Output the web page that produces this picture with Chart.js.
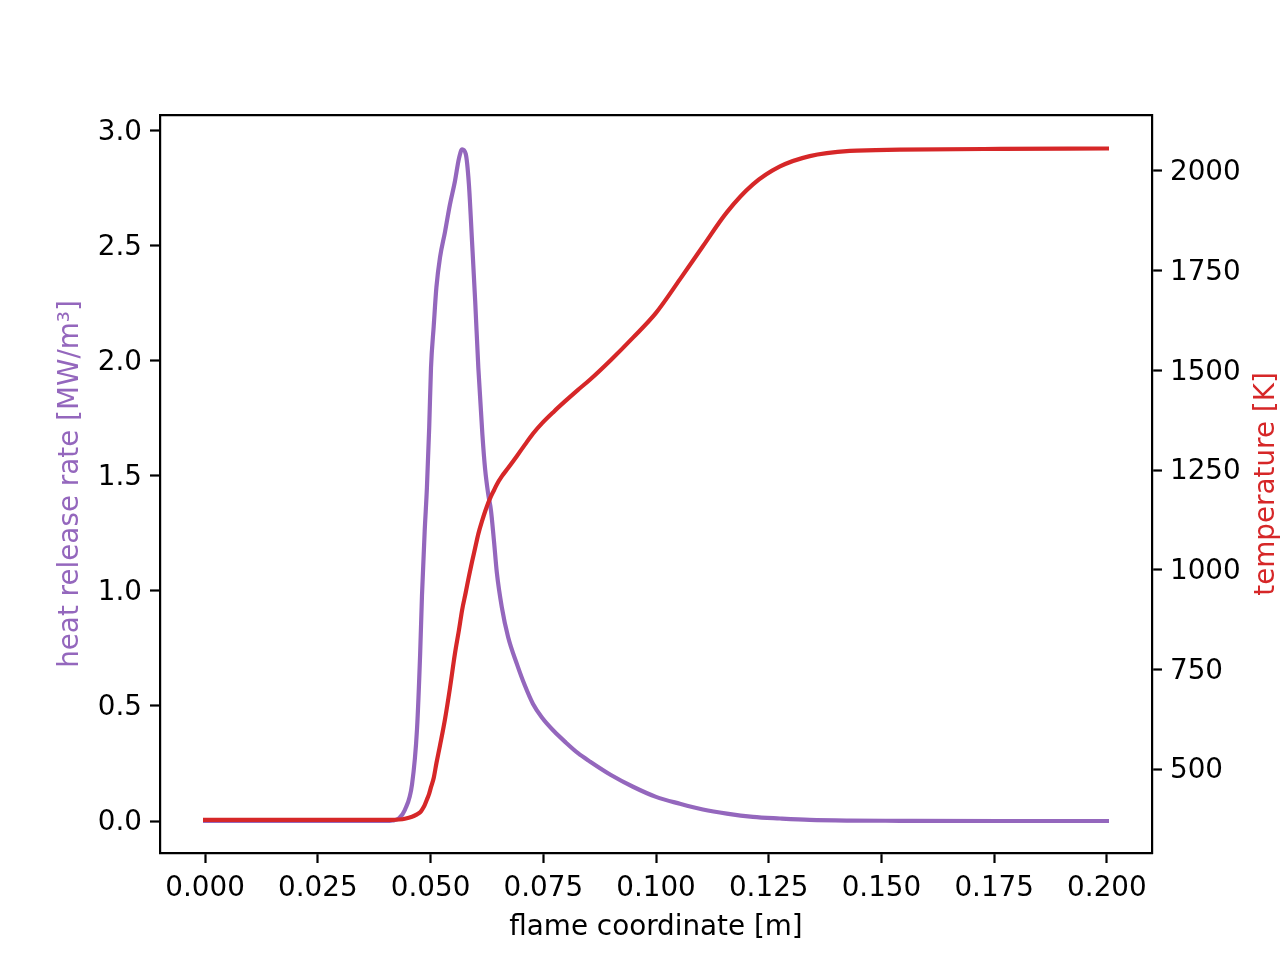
<!DOCTYPE html>
<html>
<head>
<meta charset="utf-8">
<style>
html,body{margin:0;padding:0;background:#ffffff;}
#wrap{width:1280px;height:960px;}
</style>
<script src="https://cdn.jsdelivr.net/npm/chart.js@4.4.0/dist/chart.umd.min.js"></script>
</head>
<body>
<div id="wrap"><canvas id="c" width="1280" height="960"></canvas></div>
<script>
// ---- data ----
const flameCoordinate = [0, 0.02, 0.04, 0.0415, 0.043, 0.0443, 0.0459, 0.047, 0.0477, 0.0481,
  0.0487, 0.0492, 0.0497, 0.0501, 0.0507, 0.0513, 0.0521, 0.0532, 0.0543, 0.0554,
  0.0563, 0.057, 0.0578, 0.0585, 0.0592, 0.0599, 0.0606, 0.0615, 0.0621, 0.0628,
  0.0634, 0.0641, 0.0647, 0.0658, 0.0672, 0.0692, 0.0709, 0.0727, 0.0747, 0.0774,
  0.0798, 0.0827, 0.0854, 0.09, 0.0949, 0.1, 0.1053, 0.1104, 0.1157, 0.1215,
  0.1275, 0.1341, 0.143, 0.1541, 0.1763, 0.2];
const heatReleaseRate = [0, 0, 0, 0.002, 0.012, 0.048, 0.16, 0.40, 0.73, 0.98,
  1.26, 1.45, 1.71, 1.97, 2.15, 2.32, 2.45, 2.56, 2.68, 2.78,
  2.88, 2.92, 2.90, 2.77, 2.52, 2.26, 1.97, 1.68, 1.53, 1.42,
  1.35, 1.21, 1.08, 0.93, 0.80, 0.68, 0.59, 0.51, 0.45, 0.39,
  0.345, 0.295, 0.258, 0.20, 0.149, 0.105, 0.075, 0.050, 0.032, 0.018,
  0.011, 0.005, 0.002, 0.001, 0, 0];
const temperature = [373, 373, 373, 373, 374, 376, 381, 387, 392, 398,
  410, 424, 439, 455, 478, 515, 560, 625, 703, 789,
  849, 899, 943, 983, 1020, 1055, 1090, 1125, 1146, 1168,
  1184, 1200, 1214, 1234, 1255, 1286, 1313, 1341, 1367, 1397,
  1422, 1451, 1477, 1526, 1582, 1644, 1728, 1811, 1896, 1966,
  2011, 2037, 2050, 2053, 2055, 2056];

const xTicks = [0, 0.025, 0.05, 0.075, 0.1, 0.125, 0.15, 0.175, 0.2];
const hrrTicks = [0, 0.5, 1.0, 1.5, 2.0, 2.5, 3.0];
const tempTicks = [500, 750, 1000, 1250, 1500, 1750, 2000];

const xLabel = 'flame coordinate [m]';
const hrrLabel = 'heat release rate [MW/m³]';
const tempLabel = 'temperature [K]';

const hrrColor = '#9467bd';
const tempColor = '#d62728';

// ---- styling ----
const FAMILY = '"DejaVu Sans", "Liberation Sans", sans-serif';
const FS = 27.8;
const LW = 4.2;
const SPINE = 2.2;
const font = {family: FAMILY, size: FS, lineHeight: 1.2};

function fixedTicks(values) {
  return function (scale) { scale.ticks = values.map(v => ({value: v})); };
}

const rightTitlePlugin = {
  id: 'rightTitle',
  afterDraw(chart) {
    const ctx = chart.ctx;
    const s = chart.scales.y2;
    const ca = chart.chartArea;
    ctx.save();
    ctx.translate(s.right - 6, (ca.top + ca.bottom) / 2);
    ctx.rotate(-Math.PI / 2);
    ctx.font = FS + 'px ' + FAMILY;
    ctx.fillStyle = tempColor;
    ctx.textAlign = 'center';
    ctx.textBaseline = 'alphabetic';
    ctx.fillText(tempLabel, 0, 0);
    ctx.restore();
  }
};

new Chart(document.getElementById('c'), {
  type: 'line',
  data: {
    datasets: [
      {
        label: hrrLabel,
        data: flameCoordinate.map((x, i) => ({x: x, y: heatReleaseRate[i]})),
        xAxisID: 'x', yAxisID: 'y',
        borderColor: hrrColor, backgroundColor: hrrColor,
        borderWidth: LW, pointRadius: 0, cubicInterpolationMode: 'monotone', fill: false, order: 2,
        borderCapStyle: 'square', borderJoinStyle: 'round'
      },
      {
        label: tempLabel,
        data: flameCoordinate.map((x, i) => ({x: x, y: temperature[i]})),
        xAxisID: 'x', yAxisID: 'y2',
        borderColor: tempColor, backgroundColor: tempColor,
        borderWidth: LW, pointRadius: 0, cubicInterpolationMode: 'monotone', fill: false, order: 1,
        borderCapStyle: 'square', borderJoinStyle: 'round'
      }
    ]
  },
  options: {
    responsive: false,
    animation: false,
    devicePixelRatio: 1,
    layout: {padding: 0},
    plugins: {legend: {display: false}, tooltip: {enabled: false}},
    scales: {
      x: {
        type: 'linear', position: 'bottom', min: -0.01, max: 0.21,
        afterBuildTicks: fixedTicks(xTicks),
        afterFit(s) { s.height = 107; },
        ticks: {font: font, color: '#000', padding: 9, maxRotation: 0, autoSkip: false,
                callback: v => v.toFixed(3)},
        grid: {drawOnChartArea: false, drawTicks: true, tickLength: 10, tickWidth: SPINE, tickColor: '#000'},
        border: {display: true, color: '#000', width: SPINE},
        title: {display: true, text: xLabel, color: '#000', font: font, padding: {top: 0, bottom: 16}}
      },
      x2: {
        type: 'linear', position: 'top', min: -0.01, max: 0.21,
        afterFit(s) { s.height = 115; },
        ticks: {display: false},
        grid: {display: false, drawTicks: false},
        border: {display: true, color: '#000', width: SPINE}
      },
      y: {
        type: 'linear', position: 'left', min: -0.139, max: 3.069,
        afterBuildTicks: fixedTicks(hrrTicks),
        afterFit(s) { s.width = 160; },
        ticks: {font: font, color: '#000', padding: 8, autoSkip: false, labelOffset: 2,
                callback: v => v.toFixed(1)},
        grid: {drawOnChartArea: false, drawTicks: true, tickLength: 10, tickWidth: SPINE, tickColor: '#000'},
        border: {display: true, color: '#000', width: SPINE},
        title: {display: true, text: hrrLabel, color: hrrColor, font: font, padding: {top: 54, bottom: 0}}
      },
      y2: {
        type: 'linear', position: 'right', min: 290, max: 2140,
        afterBuildTicks: fixedTicks(tempTicks),
        afterFit(s) { s.width = 128; },
        ticks: {font: font, color: '#000', padding: 8, autoSkip: false, labelOffset: 2,
                callback: v => String(v)},
        grid: {drawOnChartArea: false, drawTicks: true, tickLength: 10, tickWidth: SPINE, tickColor: '#000'},
        border: {display: true, color: '#000', width: SPINE},
        title: {display: false}
      }
    }
  },
  plugins: [rightTitlePlugin]
});
</script>
</body>
</html>
